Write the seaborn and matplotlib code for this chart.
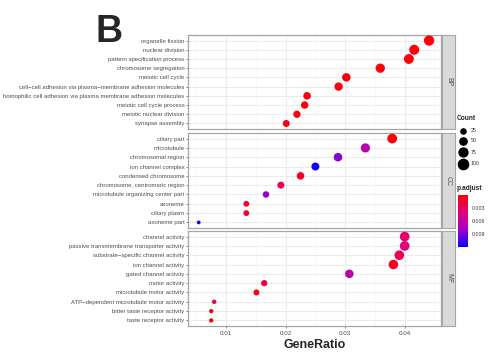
import numpy as np
import pandas as pd
import matplotlib
matplotlib.use("Agg")
import matplotlib.pyplot as plt
import seaborn as sns
from matplotlib.colors import LinearSegmentedColormap, Normalize
from matplotlib.lines import Line2D

# ---- data ----
bp_terms = ["organelle fission", "nuclear division", "pattern specification process",
            "chromosome segregation", "meiotic cell cycle",
            "cell\u2212cell adhesion via plasma\u2212membrane adhesion molecules",
            "homophilic cell adhesion via plasma membrane adhesion molecules",
            "meiotic cell cycle process", "meiotic nuclear division", "synapse assembly"]
bp_ratio = [0.0441, 0.0416, 0.0407, 0.0359, 0.0302, 0.0289, 0.0236, 0.0232, 0.0219, 0.0201]
bp_count = [101, 95, 93, 82, 69, 66, 54, 53, 50, 46]
bp_padj = [0.0001, 0.0002, 0.0003, 0.0003, 0.0004, 0.0005, 0.0005, 0.0006, 0.0007, 0.0008]

cc_terms = ["ciliary part", "microtubule", "chromosomal region", "ion channel complex",
            "condensed chromosome", "chromosome, centromeric region",
            "microtubule organizing center part", "axoneme", "ciliary plasm", "axoneme part"]
cc_ratio = [0.0379, 0.0334, 0.0288, 0.0250, 0.0225, 0.0192, 0.0167, 0.0134, 0.0134, 0.0054]
cc_count = [91, 80, 69, 60, 54, 46, 40, 32, 32, 13]
cc_padj = [0.0003, 0.0068, 0.0088, 0.0118, 0.0012, 0.0028, 0.0086, 0.0015, 0.0015, 0.0115]

mf_terms = ["channel activity", "passive transmembrane transporter activity",
            "substrate\u2212specific channel activity", "ion channel activity",
            "gated channel activity", "motor activity", "microtubule motor activity",
            "ATP\u2212dependent microtubule motor activity", "bitter taste receptor activity",
            "taste receptor activity"]
mf_ratio = [0.0400, 0.0400, 0.0391, 0.0381, 0.0307, 0.0164, 0.0151, 0.0080, 0.0075, 0.0075]
mf_count = [90, 90, 88, 86, 69, 37, 34, 18, 17, 17]
mf_padj = [0.0035, 0.0040, 0.0025, 0.0012, 0.0066, 0.0020, 0.0010, 0.0030, 0.0005, 0.0003]

ontologies = ["BP", "CC", "MF"]
size_breaks = [25, 50, 75, 100]
padj_ticks = [0.003, 0.006, 0.009]

frames = []
for ont, terms, ratio, count, padj in [("BP", bp_terms, bp_ratio, bp_count, bp_padj),
                                       ("CC", cc_terms, cc_ratio, cc_count, cc_padj),
                                       ("MF", mf_terms, mf_ratio, mf_count, mf_padj)]:
    frames.append(pd.DataFrame({"ONTOLOGY": ont, "Description": terms, "GeneRatio": ratio,
                                "Count": count, "p.adjust": padj}))
df = pd.concat(frames, ignore_index=True)

sns.set_theme(style="white")
plt.rcParams["font.family"] = ["Liberation Sans", "DejaVu Sans"]

cmap = LinearSegmentedColormap.from_list("padj", ["#FF0000", "#E3007C", "#A700C8", "#0000FF"])
norm = Normalize(vmin=0.0, vmax=0.0121)
count_norm = (13, 101)
size_range = (7.5, 55.0)

def size_of(c):
    return size_range[0] + (c - count_norm[0]) / (count_norm[1] - count_norm[0]) * (size_range[1] - size_range[0])

fig = plt.figure(figsize=(5, 3.6), dpi=100)
W, H = 500, 360
left, right = 188 / W, 441 / W
panels = {"BP": (35, 129), "CC": (133, 228), "MF": (231, 326)}
grid_col = "#EBEBEB"

for ont in ontologies:
    top, bot = panels[ont]
    ax = fig.add_axes([left, 1 - bot / H, right - left, (bot - top) / H])
    sub = df[df["ONTOLOGY"] == ont]
    sns.scatterplot(data=sub, x="GeneRatio", y="Description", hue="p.adjust", hue_norm=norm,
                    palette=cmap, size="Count", size_norm=count_norm, sizes=size_range,
                    edgecolor="none", linewidth=0, legend=False, ax=ax, zorder=3)
    n = len(sub)
    ax.set_ylim(n - 0.4, -0.6)
    ax.set_xlim(0.0036, 0.0461)
    ax.set_xticks([0.01, 0.02, 0.03, 0.04])
    ax.set_xticks([0.005, 0.015, 0.025, 0.035, 0.045], minor=True)
    ax.grid(True, which="major", color=grid_col, linewidth=0.8, zorder=0)
    ax.grid(True, which="minor", axis="x", color="#F5F5F5", linewidth=0.5, zorder=0)
    ax.set_axisbelow(True)
    for s in ax.spines.values():
        s.set_color("#A6A6A6")
        s.set_linewidth(0.9)
    ax.tick_params(axis="y", labelsize=4.35, labelcolor="#4D4D4D", length=1.5, width=0.5,
                   color="#4D4D4D", pad=1, left=True)
    ax.set_ylabel("")
    if ont == "MF":
        ax.tick_params(axis="x", labelsize=4.5, labelcolor="#4D4D4D", length=1.5, width=0.5,
                       color="#4D4D4D", pad=2, bottom=True)
        ax.set_xlabel("GeneRatio", fontsize=9, fontweight="bold", labelpad=2)
    else:
        ax.tick_params(axis="x", labelbottom=False, bottom=False)
        ax.set_xlabel("")
    # facet strip
    sax = fig.add_axes([442 / W, 1 - bot / H, 13 / W, (bot - top) / H])
    sax.set_facecolor("#D9D9D9")
    sax.set_xticks([])
    sax.set_yticks([])
    for s in sax.spines.values():
        s.set_color("#A6A6A6")
        s.set_linewidth(0.8)
    sax.text(0.5, 0.5, ont, rotation=-90, ha="center", va="center", fontsize=5,
             color="#4D4D4D", transform=sax.transAxes)

# panel letter
fig.text(95 / W, 1 - 32 / H, "B", fontsize=27, fontweight="heavy", va="center", ha="left")

# size legend
fig.text(457 / W, 1 - 119 / H, "Count", fontsize=4.8, fontweight="bold", va="center")
for c, yy in zip(size_breaks, [131, 141, 152, 164]):
    fig.add_artist(Line2D([463 / W], [1 - yy / H], marker="o", linestyle="none",
                          markersize=np.sqrt(size_of(c)), color="black",
                          transform=fig.transFigure))
    fig.text(471 / W, 1 - yy / H, str(c), fontsize=3.8, va="center", color="#333333")

# colour legend
fig.text(457 / W, 1 - 189 / H, "p.adjust", fontsize=4.8, fontweight="bold", va="center")
cax = fig.add_axes([458 / W, 1 - 247 / H, 10 / W, 52 / H])
sm = plt.cm.ScalarMappable(norm=norm, cmap=cmap)
cb = fig.colorbar(sm, cax=cax, ticks=padj_ticks)
cb.outline.set_visible(False)
cax.invert_yaxis()
cax.tick_params(labelsize=3.8, length=2, width=0.4, color="white", labelcolor="#333333", pad=1)
cax.set_yticklabels(["0.003", "0.006", "0.009"])

fig.savefig("out.png", dpi=100)
